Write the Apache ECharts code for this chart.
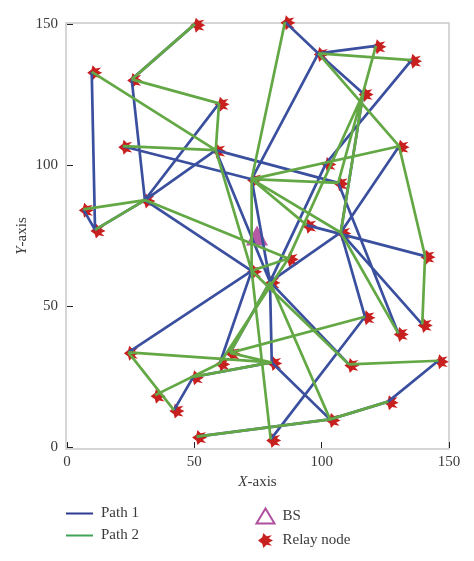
<!DOCTYPE html>
<html>
<head>
<meta charset="utf-8">
<style>
    html, body { margin: 0; padding: 0; background: #fff; }
    #chart { width: 474px; height: 561px; }
</style>
<script src="https://cdn.jsdelivr.net/npm/echarts@6/dist/echarts.min.js"></script>
</head>
<body>
<div id="chart"></div>
<script>
// Relay nodes
const relayIds = ["A", "B", "C", "D", "E", "F", "G", "H", "I", "J", "K", "L", "M", "N", "O", "P", "Q", "R", "S", "T",
    "U", "V", "W", "X", "Y", "Z", "AA", "AB", "AC", "AD", "AE", "AF", "AG", "AH", "AI", "AJ", "AK", "AL", "AM", "AN"];
const relayX = [50.2, 9.7, 25.4, 59.7, 21.9, 58.4, 30.6, 6.4, 11, 72.5, 85.6, 98.7, 121.3, 135.3, 116.3, 130.4, 101.7, 106.5, 94.1, 107.5,
    140.6, 86.9, 79.7, 72.5, 117, 130.1, 139.5, 110.7, 80.4, 145.8, 126.1, 103.3, 80, 50.9, 24.1, 34.6, 42, 49.6, 60, 64];
const relayY = [150, 133.1, 130.4, 121.9, 106.7, 105.3, 87.6, 84.3, 77, 95, 150.8, 139.6, 142.3, 137.2, 125.4, 106.7, 100.6, 93.7, 78.7, 76.1,
    67.7, 66.9, 58.6, 62.5, 46.2, 40.3, 43.5, 29.3, 30, 30.6, 16.1, 9.8, 2.7, 3.7, 33.6, 18.4, 13.1, 24.9, 29.7, 33.4];

// Links between relay nodes
const path1Links = ["A-C", "C-G", "G-D", "G-F", "B-I", "I-H", "G-I", "E-J", "F-R", "F-W", "J-W", "J-L", "K-L", "L-M", "L-O",
    "N-Q", "Q-W", "O-T", "P-T", "S-U", "T-Y", "T-AA", "R-Z", "T-W", "G-X", "X-AI", "X-AM", "W-AN", "W-AC", "W-AB",
    "AC-AF", "AG-Y", "AD-AE", "AE-AF", "AF-AH", "AK-AL", "AL-AC"];
const path2Links = ["A-C", "C-D", "D-F", "B-F", "E-F", "G-H", "G-I", "G-V", "F-X", "J-X", "X-AG", "X-V", "J-K", "J-P", "J-R", "J-T", "J-S",
    "L-N", "L-P", "M-R", "O-T", "O-V", "V-AM", "W-AN", "T-Z", "P-U", "U-AA", "AD-AB", "X-AB", "W-AF", "Y-AN", "AN-AC",
    "AI-AC", "AI-AK", "AL-AC", "AJ-AM", "AH-AF", "AF-AE"];

const bsPoint = [74.6, 75];
const tickValues = [0, 50, 100, 150];

const relayIcon = "path://M0 7 L4 4 L5 0 L8 3 L13 2 L10 5 L14 7 L10 9 L13 12 L8 11 L5 14 L4 10 Z";
const serif = "Liberation Serif";

function links_to_line(links) {
    let points = [];
    for (let i = 0; i < links.length; i++) {
        let ends = links[i].split("-");
        let a = relayIds.indexOf(ends[0]);
        let b = relayIds.indexOf(ends[1]);
        points.push([relayX[a], relayY[a]]);
        points.push([relayX[b], relayY[b]]);
        points.push(["-", "-"]);   // gap between links
    }
    return points;
}

function make_axis(position, show_label, scale_min, scale_max, label_margin) {
    return {
        type: "value",
        position: position,
        min: scale_min,
        max: scale_max,
        offset: -4,
        splitLine: { show: false },
        axisLine: { show: false },
        axisTick: {
            show: true,
            inside: true,
            length: 3,
            customValues: tickValues,
            lineStyle: { color: "#222", width: 1 }
        },
        axisLabel: {
            show: show_label,
            customValues: tickValues,
            inside: false,
            margin: label_margin,
            color: "#3a3a3a",
            fontFamily: serif,
            fontSize: 15
        }
    };
}

let nameStyle = { color: "#3a3a3a", fontFamily: serif, fontSize: 15, rich: { i: { fontStyle: "italic", fontFamily: serif, fontSize: 15, color: "#3a3a3a" } } };

let xBottom = make_axis("bottom", true, -0.4, 150, 10);
xBottom.name = "{i|X}-axis";
xBottom.nameLocation = "middle";
xBottom.nameGap = 27;
xBottom.nameTextStyle = nameStyle;

let yLeft = make_axis("left", true, -0.7, 150.4, 12);
yLeft.name = "{i|Y}-axis";
yLeft.nameLocation = "middle";
yLeft.nameGap = 40;
yLeft.nameMoveOverlap = false;
yLeft.nameTextStyle = nameStyle;

let legendText = { color: "#3a3a3a", fontFamily: serif, fontSize: 15, padding: [0, 0, 0, 3] };

let myChart = echarts.init(document.getElementById("chart"), null, { renderer: "canvas" });
myChart.setOption({
    animation: false,
    backgroundColor: "#fff",
    grid: {
        left: 66, right: 25, top: 23, bottom: 112,
        show: true,
        borderColor: "#c9c9c9",
        borderWidth: 1.5
    },
    xAxis: [xBottom, make_axis("top", false, -0.4, 150, 10)],
    yAxis: [yLeft, make_axis("right", false, -0.7, 150.4, 12)],
    legend: [
        {
            left: 66, top: 506, padding: 0, orient: "vertical", itemGap: 7,
            itemWidth: 27, itemHeight: 15,
            textStyle: legendText,
            data: [
                { name: "Path 1", icon: "path://M0 6 H27 V8 H0 Z", itemStyle: { color: "#2c3a8f" } },
                { name: "Path 2", icon: "path://M0 6 H27 V8 H0 Z", itemStyle: { color: "#3fa455" } }
            ]
        },
        {
            left: 254, top: 506, padding: 0, orient: "vertical", itemGap: 7,
            itemWidth: 18, itemHeight: 15,
            textStyle: legendText,
            data: [
                { name: "BS", icon: "triangle", itemStyle: { color: "none", borderColor: "#b04f9f", borderWidth: 2 } },
                { name: "Relay node", icon: relayIcon, itemStyle: { color: "#c8201f" } }
            ]
        }
    ],
    series: [
        {
            name: "Relay node",
            type: "scatter",
            z: 1,
            clip: false,
            symbol: relayIcon,
            symbolSize: 15,
            symbolOffset: [3, 1],
            itemStyle: { color: "#c8201f", opacity: 1 },
            data: relayX.map(function (x, i) { return [x, relayY[i]]; })
        },
        {
            name: "BS",
            type: "scatter",
            z: 2,
            symbol: "triangle",
            symbolSize: [22, 20],
            itemStyle: { color: "#b65aa5", opacity: 1 },
            data: [bsPoint]
        },
        {
            name: "Path 1",
            type: "line",
            z: 3,
            clip: false,
            showSymbol: false,
            connectNulls: false,
            lineStyle: { color: "#3b4f9f", width: 2.7 },
            itemStyle: { color: "#3b4f9f" },
            data: links_to_line(path1Links)
        },
        {
            name: "Path 2",
            type: "line",
            z: 4,
            clip: false,
            showSymbol: false,
            connectNulls: false,
            lineStyle: { color: "#63a845", width: 2.7 },
            itemStyle: { color: "#63a845" },
            data: links_to_line(path2Links)
        }
    ]
});
</script>
</body>
</html>
